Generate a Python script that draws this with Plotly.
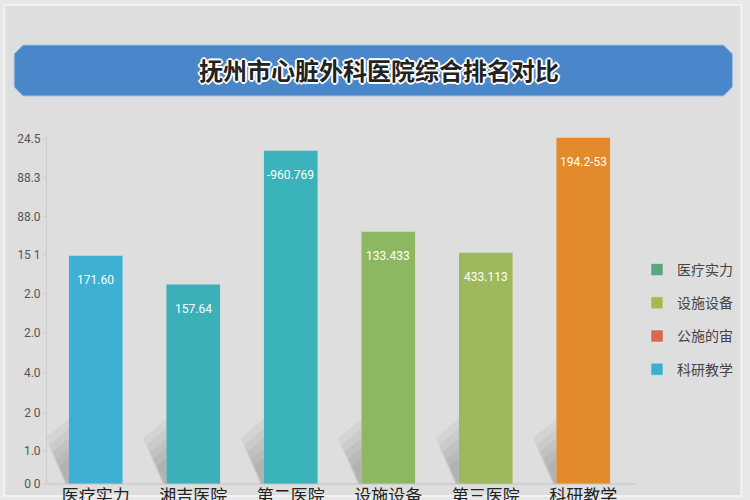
import plotly.graph_objects as go

# 数据
categories = ["医疗实力", "湘吉医院", "第二医院", "设施设备", "第三医院", "科研教学"]
bar_heights = [5.95, 5.2, 8.69, 6.58, 6.03, 9.03]
bar_labels = ["171.60", "157.64", "-960.769", "133.433", "433.113", "194.2-53"]
bar_colors = ["#3db0d4", "#3bb0b9", "#3bb3bb", "#8cb862", "#9db95b", "#e38a2c"]

y_tickvals = [0, 0.86, 1.85, 2.9, 3.94, 4.96, 5.98, 6.97, 7.98, 9.0]
y_ticktext = ["0 0", "1.0", "2 0", "4.0", "2.0", "2.0", "15 1", "88.0", "88.3", "24.5"]

legend_names = ["医疗实力", "设施设备", "公施的宙", "科研教学"]
legend_colors = ["#5aa67c", "#a8b84c", "#d9694c", "#3bb0cc"]

W, H = 750, 500
L, R, T, B = 47, 115, 135, 16


def px(x):
    return (x - L) / (W - L - R)


def py(y):
    return (H - B - y) / (H - T - B)


fig = go.Figure()

fig.add_trace(go.Bar(
    x=categories,
    y=bar_heights,
    marker=dict(color=bar_colors, line=dict(width=0)),
    width=0.55,
    showlegend=False,
    hoverinfo="skip",
))

# 图例（只显示图例）
for name, color in zip(legend_names, legend_colors):
    fig.add_trace(go.Bar(
        x=[categories[0]], y=[None], name=name, legendgroup=name,
        marker=dict(color=color), hoverinfo="skip",
    ))

# 数值标签
for cat, h, lab in zip(categories, bar_heights, bar_labels):
    fig.add_annotation(
        x=cat, y=h, text=lab, showarrow=False, yshift=-24,
        font=dict(family="Roboto, DejaVu Sans", size=12, color="white"),
    )

shapes = []
# 外框
shapes.append(dict(type="rect", xref="paper", yref="paper",
                   x0=px(4), x1=px(745), y0=py(496), y1=py(5),
                   line=dict(color="#f2f2f2", width=2), fillcolor="#dedede",
                   layer="below"))
# 标题条
c = 9
x0, x1, y0, y1 = 14, 736, 45, 96
path = "M {} {} L {} {} L {} {} L {} {} L {} {} L {} {} L {} {} L {} {} Z".format(
    px(x0 + c), py(y0), px(x1 - c), py(y0), px(x1), py(y0 + c), px(x1), py(y1 - c),
    px(x1 - c), py(y1), px(x0 + c), py(y1), px(x0), py(y1 - c), px(x0), py(y0 + c))
shapes.append(dict(type="path", xref="paper", yref="paper", path=path,
                   fillcolor="#4a87ca", line=dict(color="#9cc0e6", width=1)))
# 底部基线
shapes.append(dict(type="line", xref="paper", yref="paper",
                   x0=0, x1=px(638), y0=0, y1=0,
                   line=dict(color="#c4c4c4", width=1)))
# 柱子阴影
for i in range(len(categories)):
    left = i - 0.275
    for s in [1.0, 0.85, 0.7, 0.55, 0.4]:
        shapes.append(dict(
            type="path", xref="x", yref="y", layer="below",
            path="M {} 0 L {} {} L {} {} L {} 0 Z".format(
                left, left, 1.7 * s, left - 0.24 * s, 1.2 * s, left - 0.04 * s),
            fillcolor="rgba(80,80,80,0.07)", line=dict(width=0)))

fig.add_annotation(
    xref="paper", yref="paper", x=px(381), y=py(70), xanchor="center", yanchor="middle",
    showarrow=False,
    text="<b>抚州市心脏外科医院综合排名对比</b>",
    font=dict(family="Noto Sans CJK SC", size=24, color="#222222",
              shadow="1px 1px 0 #fff, -1px -1px 0 #fff, 1px -1px 0 #fff, -1px 1px 0 #fff, 2px 0 0 #fff, -2px 0 0 #fff, 0 2px 0 #fff, 0 -2px 0 #fff"),
)

fig.update_layout(
    width=W, height=H,
    margin=dict(l=L, r=R, t=T, b=B),
    paper_bgcolor="#e8e8e8",
    plot_bgcolor="rgba(0,0,0,0)",
    shapes=shapes,
    bargap=0.45,
    barmode="overlay",
    legend=dict(
        x=px(640), y=py(254), xanchor="left", yanchor="top",
        font=dict(family="Noto Sans CJK SC", size=14, color="#444444"),
        tracegroupgap=12, itemwidth=30, bgcolor="rgba(0,0,0,0)",
    ),
    xaxis=dict(
        range=[-0.5, 5.5], showgrid=False, zeroline=False, showline=False,
        tickfont=dict(family="Noto Sans CJK SC", size=17, color="#222222"),
        ticks="", automargin=False,
    ),
    yaxis=dict(
        range=[0, 9.1], tickvals=y_tickvals, ticktext=y_ticktext,
        showgrid=False, zeroline=False, showline=True, linecolor="#cccccc",
        ticks="outside", ticklen=3, tickcolor="#cccccc",
        tickfont=dict(family="Roboto, DejaVu Sans", size=12, color="#555555"),
        automargin=False,
    ),
)

fig.write_html("out.html", config={"displayModeBar": False},
               post_script="document.body.style.margin='0';")
